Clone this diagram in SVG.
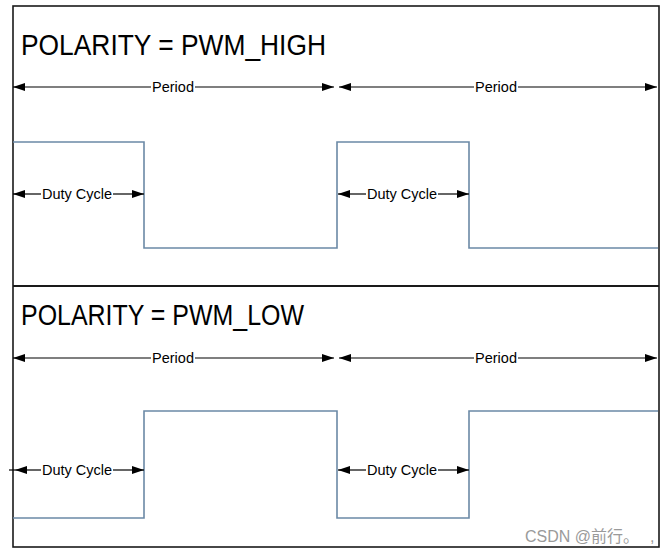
<svg xmlns="http://www.w3.org/2000/svg" width="669" height="553" viewBox="0 0 669 553">
<defs>
<marker id="ah" viewBox="0 0 12 8" refX="12" refY="4" markerWidth="12" markerHeight="8" markerUnits="userSpaceOnUse" orient="auto-start-reverse">
<path d="M0,0 L12,4 L0,8 z" fill="#000"/>
</marker>
<style>
.frame{fill:none;stroke:#1a1a1a;stroke-width:1.6}
.wave{fill:none;stroke:#6b89a6;stroke-width:1.6}
.dim{fill:none;stroke:#000;stroke-width:1.2}
.title{font-family:"Liberation Sans",Arial,sans-serif;font-size:29px;fill:#000}
.lbl{font-family:"Liberation Sans",Arial,sans-serif;font-size:14.5px;fill:#000}
.wm{font-family:"Liberation Sans","Noto Sans CJK SC",sans-serif;font-size:16px;fill:#9a9a9a}
</style>
</defs>
<rect width="669" height="553" fill="#fff"/>
<g id="frame">
<rect class="frame" x="13" y="6" width="646" height="541"/>
<line x1="13" y1="286" x2="659" y2="286" stroke="#1a1a1a" stroke-width="2"/>
</g>
<g id="title-high"><text class="title" x="21" y="55" textLength="305" lengthAdjust="spacingAndGlyphs">POLARITY = PWM_HIGH</text></g>
<g id="title-low"><text class="title" x="21" y="325" textLength="283" lengthAdjust="spacingAndGlyphs">POLARITY = PWM_LOW</text></g>
<g id="wave-high"><polyline class="wave" points="13,142 144,142 144,248 337,248 337,142 469,142 469,248 658,248"/></g>
<g id="wave-low"><polyline class="wave" points="13,518 144,518 144,411 337,411 337,518 469,518 469,411 658,411"/></g>
<g id="connectors">
<line class="dim" x1="13" y1="87" x2="151" y2="87" marker-start="url(#ah)"/>
<line class="dim" x1="195" y1="87" x2="334" y2="87" marker-end="url(#ah)"/>
<line class="dim" x1="339" y1="87" x2="474" y2="87" marker-start="url(#ah)"/>
<line class="dim" x1="518" y1="87" x2="657" y2="87" marker-end="url(#ah)"/>
<line class="dim" x1="13" y1="194" x2="41" y2="194" marker-start="url(#ah)"/>
<line class="dim" x1="113" y1="194" x2="144" y2="194" marker-end="url(#ah)"/>
<line class="dim" x1="338" y1="194" x2="366" y2="194" marker-start="url(#ah)"/>
<line class="dim" x1="438" y1="194" x2="469" y2="194" marker-end="url(#ah)"/>
<line class="dim" x1="13" y1="358" x2="151" y2="358" marker-start="url(#ah)"/>
<line class="dim" x1="195" y1="358" x2="334" y2="358" marker-end="url(#ah)"/>
<line class="dim" x1="339" y1="358" x2="474" y2="358" marker-start="url(#ah)"/>
<line class="dim" x1="518" y1="358" x2="657" y2="358" marker-end="url(#ah)"/>
<line class="dim" x1="9" y1="470" x2="15" y2="470"/>
<line class="dim" x1="15" y1="470" x2="41" y2="470" marker-start="url(#ah)"/>
<line class="dim" x1="113" y1="470" x2="144" y2="470" marker-end="url(#ah)"/>
<line class="dim" x1="338" y1="470" x2="366" y2="470" marker-start="url(#ah)"/>
<line class="dim" x1="438" y1="470" x2="469" y2="470" marker-end="url(#ah)"/>
</g>
<g id="labels">
<text class="lbl" x="173" y="92" text-anchor="middle">Period</text>
<text class="lbl" x="496" y="92" text-anchor="middle">Period</text>
<text class="lbl" x="77" y="199" text-anchor="middle">Duty Cycle</text>
<text class="lbl" x="402" y="199" text-anchor="middle">Duty Cycle</text>
<text class="lbl" x="173" y="363" text-anchor="middle">Period</text>
<text class="lbl" x="496" y="363" text-anchor="middle">Period</text>
<text class="lbl" x="77" y="475" text-anchor="middle">Duty Cycle</text>
<text class="lbl" x="402" y="475" text-anchor="middle">Duty Cycle</text>
</g>
<g id="watermark">
<text class="wm" x="525" y="542">CSDN @前行。</text>
<text class="wm" x="650" y="542">,</text>
</g>
</svg>
